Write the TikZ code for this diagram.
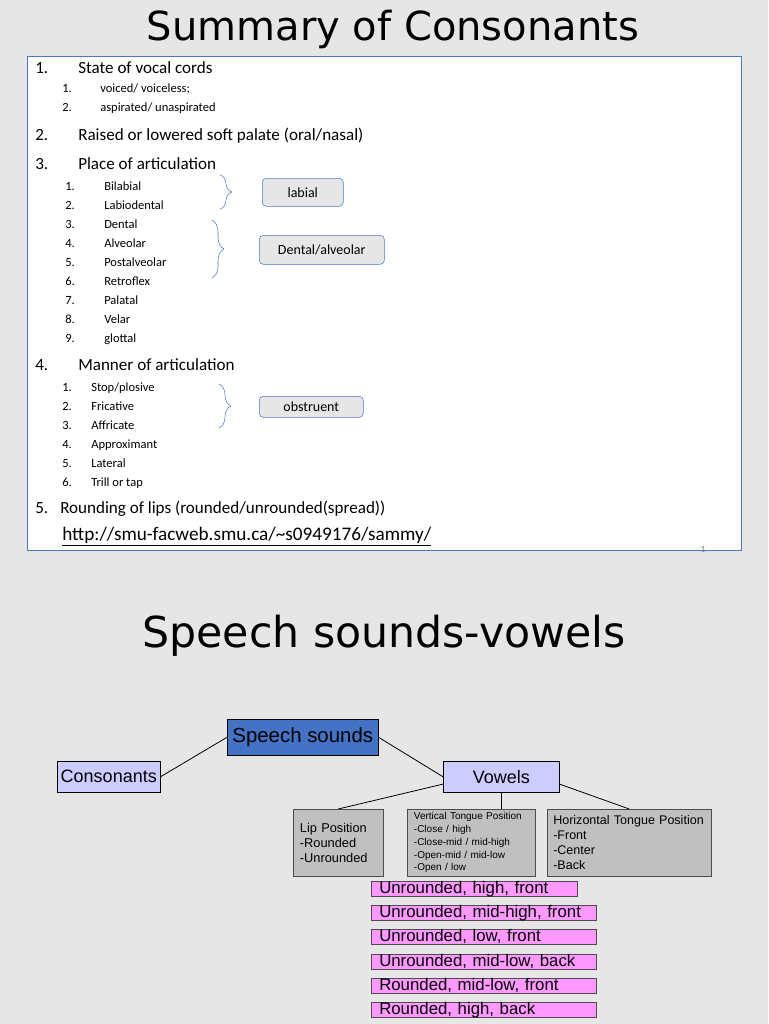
\documentclass[tikz,border=0pt]{standalone}
\usepackage{fontspec}
\setmainfont{Carlito}
\newfontfamily\titlefont{DejaVu Sans}
\newfontfamily\arialf{Liberation Sans}
\usetikzlibrary{decorations.pathreplacing}
\definecolor{bg}{HTML}{E6E6E6}
\definecolor{frame}{HTML}{4A78C8}
\definecolor{sblue}{HTML}{4472C4}
\definecolor{lav}{HTML}{CCCCFF}
\definecolor{gbox}{HTML}{C0C0C0}
\definecolor{pink}{HTML}{FF99FF}
\tikzset{
 main/.style={anchor=base west,inner sep=0,font=\fontsize{12.8}{14}\selectfont},
 sub/.style={anchor=base west,inner sep=0,font=\fontsize{9.4}{11}\selectfont},
 tag/.style={draw=frame,fill=bg,rounded corners=3pt,inner sep=0,anchor=north west,font=\fontsize{10.5}{12}\selectfont},
 brace/.style={draw=frame,decorate,decoration={brace,amplitude=9pt}},
 dbox/.style={draw=black,inner sep=0,anchor=north west,font=\arialf\fontsize{13.5}{15}\selectfont},
 gb/.style={draw=black!70,fill=gbox,inner xsep=5pt,inner ysep=0,anchor=north west,align=left},
 pb/.style={draw=black!70,fill=pink,inner xsep=6pt,inner ysep=0,anchor=north west,text height=9.5pt,text depth=2pt,align=left,font=\arialf\fontsize{12.6}{14}\selectfont},
 ln/.style={draw=black,line width=0.6pt}
}
\begin{document}
\begin{tikzpicture}[x=0.75pt,y=-0.75pt]
\fill[bg] (0,0) rectangle (768,1024);
\node[font=\titlefont\fontsize{30}{34}\selectfont] (t1) at (393,29) {Summary of Consonants};
\draw[frame,fill=white,line width=0.6pt] (27,56) rectangle (741,550);
\node[main] (n1) at (35,74) {1.}; \node[main] (i1) at (78,74) {State of vocal cords};
\node[sub] at (62,93) {1.}; \node[sub] at (100,93) {voiced/ voiceless;};
\node[sub] at (62,112) {2.}; \node[sub] at (100,112) {aspirated/ unaspirated};
\node[main] at (35,140) {2.}; \node[main] at (78,140) {Raised or lowered soft palate (oral/nasal)};
\node[main] at (35,169) {3.}; \node[main] at (78,169) {Place of articulation};
\foreach \k/\t/\y in {1/Bilabial/186,2/Labiodental/205,3/Dental/224,4/Alveolar/243,5/Postalveolar/262,6/Retroflex/281,7/Palatal/300,8/Velar/319,9/glottal/338}{
 \node[sub] at (65,\y+4) {\k.}; \node[sub] at (104,\y+4) {\t};}
\node[main] at (35,370) {4.}; \node[main] at (78,370) {Manner of articulation};
\foreach \k/\t/\y in {1/Stop\slash plosive/387,2/Fricative/406,3/Affricate/425,4/Approximant/444,5/Lateral/463,6/Trill or tap/482}{
 \node[sub] at (62,\y+4) {\k.}; \node[sub] at (91,\y+4) {\t};}
\node[main] at (35,513) {5.}; \node[main] at (60,513) {Rounding of lips (rounded/unrounded(spread))};
\node[anchor=base west,inner sep=0,font=\fontsize{14.4}{16}\selectfont] (url) at (62,540) {\underline{http://smu-facweb.smu.ca/\textasciitilde s0949176/sammy/}};
\node[font=\fontsize{7}{8}\selectfont,text=gray] (pg) at (703,549) {1};
\coordinate (b1a) at (220,175); \coordinate (b1b) at (220,209);
\draw[brace] (b1a) -- (b1b);
\coordinate (b2a) at (212,220); \coordinate (b2b) at (212,278);
\draw[brace] (b2a) -- (b2b);
\coordinate (b3a) at (219,384); \coordinate (b3b) at (219,428);
\draw[brace] (b3a) -- (b3b);
\node[tag,minimum width=60.75pt,minimum height=21pt] (lab) at (262,178) {labial};
\node[tag,minimum width=93.75pt,minimum height=21.75pt] (den) at (259,235) {Dental/alveolar};
\node[tag,minimum width=78pt,minimum height=15.75pt] (obs) at (259,396) {obstruent};
\node[font=\titlefont\fontsize{32}{36}\selectfont] (t2) at (384,636) {Speech sounds-vowels};
\node[dbox,fill=sblue,minimum width=113.25pt,minimum height=27pt,font=\arialf\fontsize{15.3}{17}\selectfont] (sp) at (227,719) {Speech sounds};
\node[dbox,fill=lav,minimum width=77.25pt,minimum height=23.25pt] (co) at (57,761) {Consonants};
\node[dbox,fill=lav,minimum width=87pt,minimum height=23.25pt] (vo) at (443,761) {Vowels};
\node[gb,minimum height=50.25pt,text width=57.5pt,font=\arialf\fontsize{9.6}{11.3}\selectfont] (lip) at (293,809) {Lip Position\\-Rounded\\-Unrounded};
\node[gb,minimum height=50.25pt,text width=86pt,inner xsep=5pt,font=\arialf\fontsize{7.5}{9.6}\selectfont] (ver) at (407,809) {Vertical Tongue Position\\-Close / high\\-Close-mid / mid-high\\-Open-mid / mid-low\\-Open / low};
\node[gb,minimum height=50.25pt,text width=114pt,inner xsep=4.5pt,font=\arialf\fontsize{9.4}{11.2}\selectfont] (hor) at (547,809) {Horizontal Tongue Position\\-Front\\-Center\\-Back};
\draw[ln] (co.east) -- (sp.west);
\draw[ln] (sp.east) -- (vo.west);
\draw[ln] ([yshift=-5.5pt]vo.west) -- (lip.north);
\draw[ln] (vo.south) -- (vo.south |- ver.north);
\draw[ln] ([yshift=-5.5pt]vo.east) -- (hor.north);
\node[pb,minimum width=154.5pt,text width=142.5pt] (p1) at (371,881) {Unrounded, high, front};
\node[pb,minimum width=168.75pt,text width=156.75pt] (p2) at (371,905) {Unrounded, mid-high, front};
\node[pb,minimum width=168.75pt,text width=156.75pt] (p3) at (371,929) {Unrounded, low, front};
\node[pb,minimum width=168.75pt,text width=156.75pt] (p4) at (371,954) {Unrounded, mid-low, back};
\node[pb,minimum width=168.75pt,text width=156.75pt] (p5) at (371,978) {Rounded, mid-low, front};
\node[pb,minimum width=168.75pt,text width=156.75pt] (p6) at (371,1002) {Rounded, high, back};
\end{tikzpicture}
\end{document}
